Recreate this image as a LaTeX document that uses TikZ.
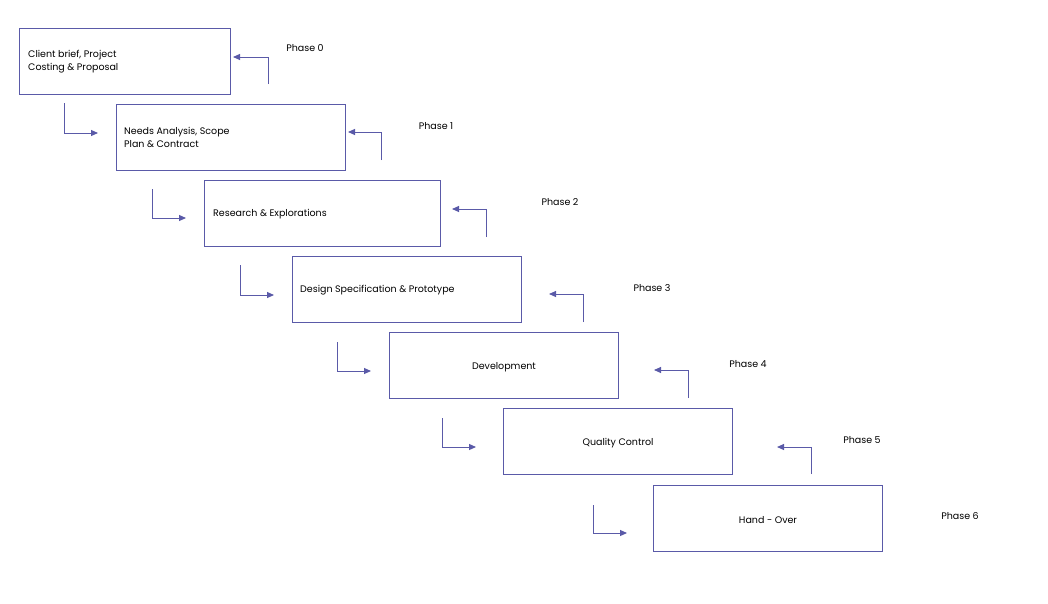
\documentclass[tikz,border=0pt]{standalone}
\usepackage{fontspec}
\setmainfont{Poppins}
\usetikzlibrary{arrows.meta}
\definecolor{ln}{HTML}{5A5AA8}
\begin{document}
\begin{tikzpicture}[x=1pt,y=-1pt,
  box/.style={draw=ln,line width=1pt},
  arr/.style={draw=ln,line width=1pt,-{Triangle[length=7pt,width=6pt]}},
  lbl/.style={font=\fontsize{9.5}{13}\selectfont,inner sep=0pt},
  ph/.style={font=\fontsize{9.5}{13}\selectfont,inner sep=0pt}]
\useasboundingbox (0,0) rectangle (1048,603);
\fill[white] (0,0) rectangle (1048,603);
\draw[box] (19,28) rectangle (230,94);
\draw[box] (116,104) rectangle (345,170);
\draw[box] (204,180) rectangle (440,246);
\draw[box] (292,256) rectangle (521,322);
\draw[box] (389,332) rectangle (618,398);
\draw[box] (503,408) rectangle (732,474);
\draw[box] (653,485) rectangle (882,551);
\node[lbl,anchor=west,align=left] (t0) at (28,61.5) {Client brief, Project\\Costing \& Proposal};
\node[lbl,anchor=west,align=left] (t1) at (124,137.5) {Needs Analysis, Scope\\Plan \& Contract};
\node[lbl,anchor=west] (t2) at (213,214) {Research \& Explorations};
\node[lbl,anchor=west] (t3) at (300,290) {Design Specification \& Prototype};
\node[lbl] (t4) at (504,367) {Development};
\node[lbl] (t5) at (618,443) {Quality Control};
\node[lbl] (t6) at (768,520) {Hand - Over};
\node[ph] (p0) at (305,48) {Phase 0};
\node[ph] (p1) at (436,126) {Phase 1};
\node[ph] (p2) at (560,202) {Phase 2};
\node[ph] (p3) at (652,288) {Phase 3};
\node[ph] (p4) at (748,364) {Phase 4};
\node[ph] (p5) at (862,440) {Phase 5};
\node[ph] (p6) at (960,516) {Phase 6};
\foreach \x/\ya/\yb in {64/103/133,152/189/218,240/265/295,337/342/371,442/418/447,593/505/533}
  \draw[arr] (\x,\ya) -- (\x,\yb) -- (\x+34,\yb);
\foreach \x/\ya/\yb/\xe in {268/84/57/233,381/160/132/348,486/237/209/452,583/322/294/549,688/398/370/654,811/474/447/777}
  \draw[arr] (\x,\ya) -- (\x,\yb) -- (\xe,\yb);
\end{tikzpicture}
\end{document}
